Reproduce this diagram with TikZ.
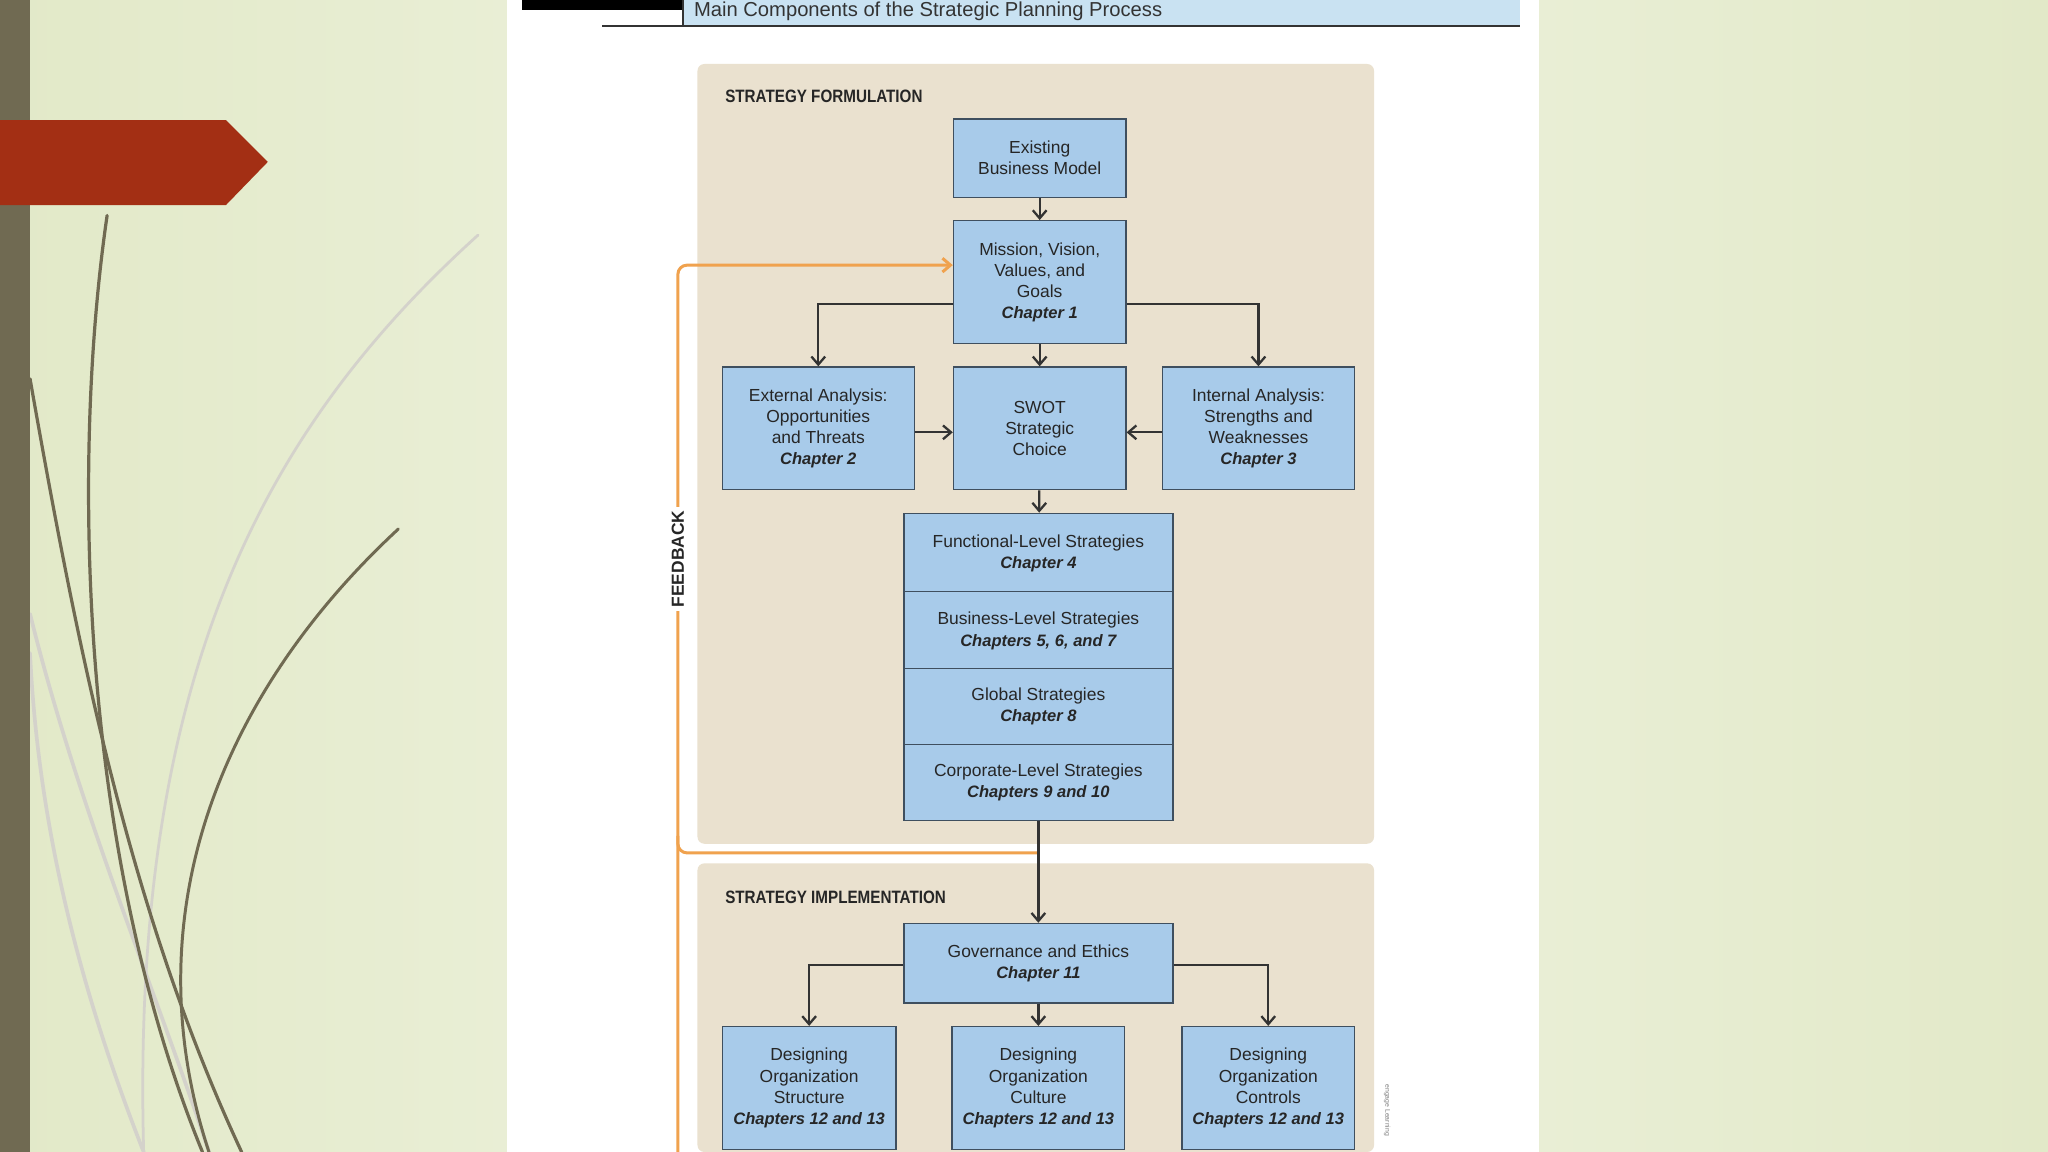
\documentclass[tikz,border=0pt]{standalone}
\usepackage{fontspec}
\setmainfont{Liberation Sans}
\usetikzlibrary{arrows.meta}
\definecolor{bgA}{HTML}{E2E9C8}
\definecolor{bgB}{HTML}{F0F4E2}
\definecolor{barc}{HTML}{706A52}
\definecolor{redc}{HTML}{A32F14}
\definecolor{panel}{HTML}{EAE1CF}
\definecolor{boxc}{HTML}{A8CBEA}
\definecolor{boxb}{HTML}{3F4F5F}
\definecolor{fb}{HTML}{F0A24E}
\definecolor{hdr}{HTML}{C9E2F2}
\newcommand\chp{\fontsize{7.2}{9}\selectfont\bfseries\itshape}
\begin{document}
\begin{tikzpicture}[x=0.2mm,y=-0.2mm,
  box/.style={draw=boxb,fill=boxc,line width=0.6pt},
  txt/.style={align=center,font=\fontsize{7.6}{9.2}\selectfont,text=black!85},
  arr/.style={draw=black!80,line width=1pt,-{Straight Barb[length=3.5pt,width=6pt]}},
  hd/.style={font=\fontsize{7.8}{9}\selectfont\bfseries,anchor=west,text=black!85,xscale=0.85,transform shape},
  curve/.style={draw=barc,line cap=round},
  lcurve/.style={draw=barc!30,line cap=round}]
\useasboundingbox (0,0) rectangle (1568,882);
\shade[left color=bgA,right color=bgB] (0,0) rectangle (784,882);
\shade[left color=bgB,right color=bgA] (784,0) rectangle (1568,882);
% curves
\draw[lcurve,line width=1.2pt] (366,180) .. controls (200,330) and (100,520) .. (110,882);
\draw[lcurve,line width=1.6pt] (23,470) .. controls (60,620) and (120,760) .. (160,882);
\draw[lcurve,line width=1.6pt] (23,500) .. controls (30,650) and (70,780) .. (110,882);
\draw[curve,line width=1.4pt] (82,165) .. controls (55,350) and (60,650) .. (155,882);
\draw[curve,line width=1.4pt] (23,290) .. controls (60,500) and (100,700) .. (185,882);
\draw[curve,line width=1.3pt] (305,405) .. controls (170,530) and (100,700) .. (160,882);
\fill[barc] (0,0) rectangle (23,882);
\fill[redc] (0,92) -- (173,92) -- (205,124) -- (173,157) -- (0,157) -- cycle;
% page
\fill[white] (388,0) rectangle (1178,882);
\fill[black] (400,0) rectangle (522,8);
\fill[hdr] (523,0) rectangle (1164,20);
\draw[black!80,line width=0.8pt] (461,20) -- (1164,20);
\draw[black!80,line width=0.6pt] (523,0) -- (523,20);
\node[anchor=base west,font=\fontsize{8.8}{10}\selectfont,text=black!80,inner sep=0] (title) at (531,13) {Main Components of the Strategic Planning Process};
\fill[panel,rounded corners=3pt] (534,49) rectangle (1052,646);
\fill[panel,rounded corners=3pt] (534,661) rectangle (1052,882);
\node[hd] (hf) at (550,74) {STRATEGY FORMULATION};
\node[hd] (hi) at (550,687) {STRATEGY IMPLEMENTATION};
% boxes
\node[box,minimum width=132*0.2mm,minimum height=60*0.2mm] (ebm) at (796,121) {};
\node[txt] at (ebm) {Existing\\Business Model};
\node[box,minimum width=132*0.2mm,minimum height=94*0.2mm] (mv) at (796,216) {};
\node[txt] at (796,216) {Mission, Vision,\\Values, and\\Goals\\{\chp Chapter 1}};
\node[box,minimum width=147*0.2mm,minimum height=94*0.2mm] (ext) at (626.5,328) {};
\node[txt] at (ext) {External Analysis:\\Opportunities\\and Threats\\{\chp Chapter 2}};
\node[box,minimum width=132*0.2mm,minimum height=94*0.2mm] (swot) at (796,328) {};
\node[txt] at (swot) {SWOT\\Strategic\\Choice};
\node[box,minimum width=147*0.2mm,minimum height=94*0.2mm] (int) at (963.5,328) {};
\node[txt] at (int) {Internal Analysis:\\Strengths and\\Weaknesses\\{\chp Chapter 3}};
\node[box,minimum width=206*0.2mm,minimum height=235*0.2mm] (stack) at (795,510.5) {};
\draw[boxb,line width=0.4pt] (692,453) -- (898,453) (692,512) -- (898,512) (692,570) -- (898,570);
\node[txt] (s1) at (795,424) {Functional-Level Strategies\\{\chp Chapter 4}};
\node[txt] (s2) at (795,483) {Business-Level Strategies\\{\chp Chapters 5, 6, and 7}};
\node[txt] (s3) at (795,541) {Global Strategies\\{\chp Chapter 8}};
\node[txt] (s4) at (795,599) {Corporate-Level Strategies\\{\chp Chapters 9 and 10}};
\node[box,minimum width=206*0.2mm,minimum height=61*0.2mm] (gov) at (795,737.5) {};
\node[txt] at (gov) {Governance and Ethics\\{\chp Chapter 11}};
\node[box,minimum width=133*0.2mm,minimum height=94*0.2mm] (dst) at (619.5,833) {};
\node[txt] at (dst) {Designing\\Organization\\Structure\\{\chp Chapters 12 and 13}};
\node[box,minimum width=132*0.2mm,minimum height=94*0.2mm] (dcu) at (795,833) {};
\node[txt] at (dcu) {Designing\\Organization\\Culture\\{\chp Chapters 12 and 13}};
\node[box,minimum width=132*0.2mm,minimum height=94*0.2mm] (dco) at (971,833) {};
\node[txt] at (dco) {Designing\\Organization\\Controls\\{\chp Chapters 12 and 13}};
% feedback
\coordinate (fb0) at (519,882);
\coordinate (fb1) at (519,203);
\coordinate (fbj) at (795,653);
\draw[fb,line width=1.3pt,rounded corners=4pt,-{Straight Barb[length=3.5pt,width=6pt]}] (fb0) -- (fb1) -- (mv.west |- fb1);
\draw[fb,line width=1.3pt,rounded corners=4pt] (519,640) |- (fbj);
\node[fill=white,rotate=90,inner sep=1.5pt,font=\fontsize{7.6}{9}\selectfont\bfseries,text=black!85] (fbl) at (519,428) {FEEDBACK};
% connectors
\draw[arr] (ebm) -- (mv);
\draw[arr] (mv) -- (swot);
\draw[arr] (mv.west |- 0,233) -| (ext.north);
\draw[arr] (mv.east |- 0,233) -| (int.north);
\draw[arr] (ext.east |- 0,331) -- (swot.west |- 0,331);
\draw[arr] (int.west |- 0,331) -- (swot.east |- 0,331);
\draw[arr] (swot) -- (stack);
\draw[arr] (stack) -- (gov);
\draw[arr] (gov.west |- 0,739) -| (dst.north);
\draw[arr] (gov.east |- 0,739) -| (dco.north);
\draw[arr] (gov) -- (dcu);
\node[rotate=-90,font=\fontsize{3}{3}\selectfont,text=black!50] (cl) at (1062,850) {engage Learning};
\end{tikzpicture}
\end{document}
